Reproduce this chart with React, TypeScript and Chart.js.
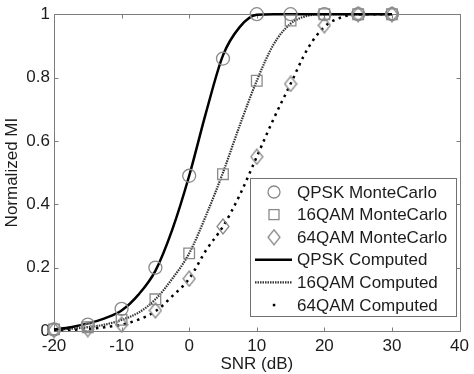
import React, { useEffect, useRef } from 'react';
import { Chart, registerables } from 'chart.js';
Chart.register(...registerables);

const FONT = "'Liberation Sans', Arial, Helvetica, sans-serif";

// Monte Carlo simulation points
const snrMC = [-20, -15, -10, -5, 0, 5, 10, 15, 20, 25, 30];
const qpskMC = [0.005, 0.02, 0.07, 0.2, 0.49, 0.86, 1, 1, 1, 1, 1];
const qam16MC = [0.005, 0.012, 0.035, 0.1, 0.245, 0.495, 0.79, 0.98, 1, 1, 1];
const qam64MC = [0.003, 0.006, 0.02, 0.065, 0.165, 0.33, 0.55, 0.78, 0.965, 1, 1];

// Computed curves
const snrComp = [-20, -17.5, -15, -12.5, -10, -7.5, -5, -2.5, 0, 2.5, 5, 7.5, 10, 12.5, 15, 17.5, 20, 22.5, 25, 27.5, 30];
const qpskComp = [0.005, 0.012, 0.024, 0.04, 0.065, 0.115, 0.19, 0.32, 0.49, 0.69, 0.87, 0.96, 0.998, 1, 1, 1, 1, 1, 1, 1, 1];
const qam16Comp = [0.004, 0.007, 0.012, 0.02, 0.035, 0.058, 0.1, 0.165, 0.245, 0.365, 0.5, 0.65, 0.79, 0.905, 0.97, 0.995, 1, 1, 1, 1, 1];
const qam64Comp = [0.003, 0.004, 0.006, 0.012, 0.02, 0.036, 0.062, 0.11, 0.165, 0.255, 0.33, 0.43, 0.55, 0.67, 0.78, 0.89, 0.96, 0.99, 0.999, 1, 1];

const legendLabels = [
  'QPSK MonteCarlo',
  '16QAM MonteCarlo',
  '64QAM MonteCarlo',
  'QPSK Computed',
  '16QAM Computed',
  '64QAM Computed',
];
const xTicks = [-20, -10, 0, 10, 20, 30, 40];
const xTickLabels = ['-20', '-10', '0', '10', '20', '30', '40'];
const yTicks = [0, 0.2, 0.4, 0.6, 0.8, 1];
const yTickLabels = ['0', '0.2', '0.4', '0.6', '0.8', '1'];

const MARKER = '#8a8a8a';
const AXIS = '#7c7c7c';
const TEXT = '#1c1c1c';

function pts(xs: number[], ys: number[]) {
  return xs.map((x, i) => ({ x, y: ys[i] }));
}

function makeDiamond(): HTMLCanvasElement {
  const c = document.createElement('canvas');
  c.width = 14;
  c.height = 17;
  const g = c.getContext('2d')!;
  g.strokeStyle = MARKER;
  g.lineWidth = 1.3;
  g.beginPath();
  g.moveTo(7, 1);
  g.lineTo(13, 8.5);
  g.lineTo(7, 16);
  g.lineTo(1, 8.5);
  g.closePath();
  g.stroke();
  return c;
}

export default function App() {
  const ref = useRef<HTMLCanvasElement>(null);

  useEffect(() => {
    if (!ref.current) return;
    const diamond = makeDiamond();

    const framePlugin = {
      id: 'frame',
      beforeDatasetsDraw(chart: any) {
        const { ctx, chartArea: a, scales } = chart;
        ctx.save();
        ctx.strokeStyle = AXIS;
        ctx.lineWidth = 1;
        ctx.beginPath();
        const l = Math.round(a.left) + 0.5;
        const t = Math.round(a.top) + 0.5;
        const r = Math.round(a.right) + 0.5;
        const b = Math.round(a.bottom) + 0.5;
        ctx.rect(l, t, r - l, b - t);
        const tl = 4;
        xTicks.forEach((v) => {
          const px = Math.round(scales.x.getPixelForValue(v)) + 0.5;
          ctx.moveTo(px, b);
          ctx.lineTo(px, b - tl);
          ctx.moveTo(px, t);
          ctx.lineTo(px, t + tl);
        });
        yTicks.forEach((v) => {
          const py = Math.round(scales.y.getPixelForValue(v)) + 0.5;
          ctx.moveTo(l, py);
          ctx.lineTo(l + tl, py);
          ctx.moveTo(r, py);
          ctx.lineTo(r - tl, py);
        });
        ctx.stroke();
        ctx.restore();
      },
    };

    const legendPlugin = {
      id: 'boxLegend',
      afterDraw(chart: any) {
        const { ctx, chartArea: a } = chart;
        const w = 206;
        const h = 138;
        const x0 = Math.round(a.right - 4 - w);
        const y0 = Math.round(a.bottom - 15 - h);
        ctx.save();
        ctx.fillStyle = '#ffffff';
        ctx.fillRect(x0, y0, w, h);
        ctx.strokeStyle = '#707070';
        ctx.lineWidth = 1;
        ctx.strokeRect(x0 + 0.5, y0 + 0.5, w, h);
        ctx.font = `17px ${FONT}`;
        ctx.textBaseline = 'middle';
        ctx.textAlign = 'left';
        legendLabels.forEach((lab, i) => {
          const cy = y0 + 14 + i * 22.6;
          const mx = x0 + 24;
          ctx.save();
          if (i === 0) {
            ctx.strokeStyle = MARKER;
            ctx.lineWidth = 1.3;
            ctx.beginPath();
            ctx.arc(mx, cy, 6, 0, Math.PI * 2);
            ctx.stroke();
          } else if (i === 1) {
            ctx.strokeStyle = MARKER;
            ctx.lineWidth = 1.3;
            ctx.strokeRect(mx - 5, cy - 5, 10, 10);
          } else if (i === 2) {
            ctx.drawImage(diamond, mx - diamond.width / 2, cy - diamond.height / 2);
          } else if (i === 3) {
            ctx.strokeStyle = '#000';
            ctx.lineWidth = 2.5;
            ctx.beginPath();
            ctx.moveTo(x0 + 5, cy);
            ctx.lineTo(x0 + 42, cy);
            ctx.stroke();
          } else if (i === 4) {
            ctx.strokeStyle = '#333';
            ctx.lineWidth = 2.2;
            ctx.setLineDash([1.5, 1]);
            ctx.beginPath();
            ctx.moveTo(x0 + 5, cy);
            ctx.lineTo(x0 + 42, cy);
            ctx.stroke();
          } else {
            ctx.fillStyle = '#000';
            ctx.fillRect(mx - 1.2, cy - 1.2, 2.5, 2.5);
          }
          ctx.restore();
          ctx.fillStyle = TEXT;
          ctx.fillText(lab, x0 + 47, cy + 1);
        });
        ctx.restore();
      },
    };

    const font = { family: FONT, size: 17 };

    const chart = new Chart(ref.current, {
      type: 'scatter',
      data: {
        datasets: [
          {
            label: legendLabels[0],
            data: pts(snrMC, qpskMC),
            showLine: false,
            pointStyle: 'circle',
            pointRadius: 6.5,
            pointBorderWidth: 1.3,
            pointBorderColor: MARKER,
            pointBackgroundColor: 'rgba(0,0,0,0)',
            clip: false,
          },
          {
            label: legendLabels[1],
            data: pts(snrMC, qam16MC),
            showLine: false,
            pointStyle: 'rect',
            pointRadius: 7.5,
            pointBorderWidth: 1.3,
            pointBorderColor: MARKER,
            pointBackgroundColor: 'rgba(0,0,0,0)',
            clip: false,
          },
          {
            label: legendLabels[2],
            data: pts(snrMC, qam64MC),
            showLine: false,
            pointStyle: diamond,
            pointRadius: 7,
            clip: false,
          },
          {
            label: legendLabels[3],
            data: pts(snrComp, qpskComp),
            showLine: true,
            borderColor: '#000',
            borderWidth: 2.5,
            pointRadius: 0,
            cubicInterpolationMode: 'monotone',
            clip: false,
          },
          {
            label: legendLabels[4],
            data: pts(snrComp, qam16Comp),
            showLine: true,
            borderColor: '#333',
            borderWidth: 2.2,
            borderDash: [1.5, 1],
            pointRadius: 0,
            cubicInterpolationMode: 'monotone',
            clip: false,
          },
          {
            label: legendLabels[5],
            data: pts(snrComp, qam64Comp),
            showLine: true,
            borderColor: '#000',
            borderWidth: 2.5,
            borderDash: [2.5, 4.5],
            pointRadius: 0,
            cubicInterpolationMode: 'monotone',
            clip: false,
          },
        ],
      } as any,
      options: {
        animation: false,
        responsive: false,
        maintainAspectRatio: false,
        events: [],
        layout: { padding: { top: 10, right: 11, left: 0, bottom: 0 } },
        plugins: {
          legend: { display: false },
          tooltip: { enabled: false },
        },
        scales: {
          x: {
            type: 'linear',
            min: -20,
            max: 40,
            afterBuildTicks: (s: any) => {
              s.ticks = xTicks.map((v) => ({ value: v }));
            },
            ticks: {
              font,
              color: TEXT,
              padding: 5,
              autoSkip: false,
              maxRotation: 0,
              callback: (_v: any, i: number) => xTickLabels[i],
            },
            grid: { display: false, drawTicks: false },
            border: { display: false },
            title: {
              display: true,
              text: 'SNR (dB)',
              font: { family: FONT, size: 17, lineHeight: 1.1 },
              color: TEXT,
              padding: { top: 0, bottom: 0 },
            },
            afterFit: (s: any) => {
              s.height = 43;
            },
          },
          y: {
            type: 'linear',
            min: 0,
            max: 1,
            afterBuildTicks: (s: any) => {
              s.ticks = yTicks.map((v) => ({ value: v }));
            },
            ticks: {
              font,
              color: TEXT,
              padding: 4,
              autoSkip: false,
              callback: (_v: any, i: number) => yTickLabels[i],
            },
            grid: { display: false, drawTicks: false },
            border: { display: false },
            title: {
              display: true,
              text: 'Normalized MI',
              font: { family: FONT, size: 17, lineHeight: 1.1 },
              color: TEXT,
              padding: { top: 3, bottom: 0 },
            },
            afterFit: (s: any) => {
              s.width = 54;
            },
          },
        },
      } as any,
      plugins: [framePlugin, legendPlugin],
    });
    return () => chart.destroy();
  }, []);

  return (
    <div style={{ position: 'absolute', left: 0, top: 0, width: 474, height: 374, background: '#fff' }}>
      <canvas ref={ref} width={474} height={374} style={{ display: 'block', width: 474, height: 374 }} />
    </div>
  );
}
